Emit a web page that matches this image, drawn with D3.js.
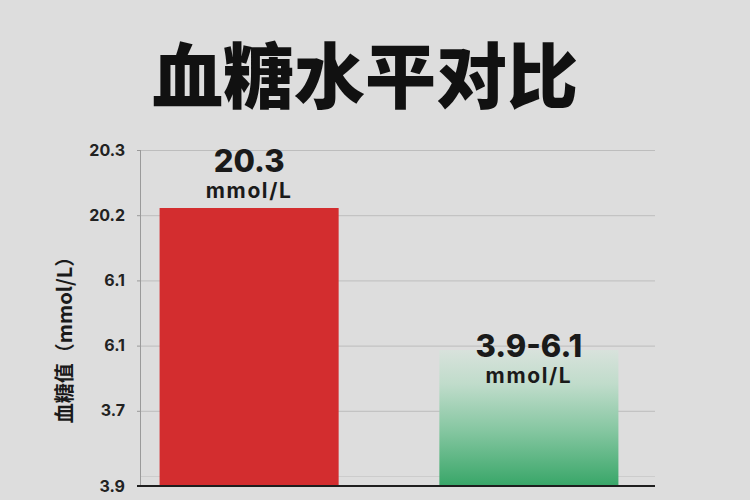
<!DOCTYPE html>
<html>
<head>
<meta charset="utf-8">
<script src="https://cdn.jsdelivr.net/npm/d3@7"></script>
<style>
  body { margin: 0; background: #dddddd; }
  svg { display: block; }
</style>
</head>
<body>
<div id="chart"></div>
<script>
// data
var categories = ["高血糖", "正常范围"];
var values = [20.3, 6.1];
var valueLabels = ["20.3", "3.9-6.1"];
var unitLabel = "mmol/L";
var tickLabels = ["3.9", "3.7", "6.1", "6.1", "20.2", "20.3"];
var titleText = "血糖水平对比";
var yTitle = "血糖值（mmol/L）";

var width = 750,
    height = 500;

var svg = d3.select("#chart").append("svg")
    .attr("width", width)
    .attr("height", height);

svg.append("rect")
    .attr("width", width)
    .attr("height", height)
    .attr("fill", "#dddddd");

var axisX = 140,
    baseY = 486,
    gridRight = 655;

// the value axis of the picture is not linear, so the scale is piecewise
var y = d3.scaleLinear()
    .domain([0, 6.1, 20.3])
    .range([baseY, 350, 208]);

var x = d3.scaleBand()
    .domain(categories)
    .range([axisX, 638])
    .paddingInner(0.36)
    .paddingOuter(0.07);

// tick label rows are evenly spaced
var tickY = d3.scalePoint()
    .domain(d3.range(tickLabels.length))
    .range([476, 150]);

var defs = svg.append("defs");
var grad = defs.append("linearGradient")
    .attr("id", "greenGrad")
    .attr("x1", 0).attr("y1", 0)
    .attr("x2", 0).attr("y2", 1);
grad.append("stop").attr("offset", "0%").attr("stop-color", "#d8e2dc");
grad.append("stop").attr("offset", "25%").attr("stop-color", "#c0dccb");
grad.append("stop").attr("offset", "60%").attr("stop-color", "#84c6a0");
grad.append("stop").attr("offset", "100%").attr("stop-color", "#38a668");

// gridlines
svg.append("g")
    .selectAll("line")
    .data(d3.range(tickLabels.length))
    .enter().append("line")
    .attr("x1", axisX)
    .attr("x2", gridRight)
    .attr("y1", function(d) { return tickY(d) + 0.5; })
    .attr("y2", function(d) { return tickY(d) + 0.5; })
    .attr("stroke", function(d) { return d === 0 ? "#cccccc" : "#bdbdbd"; })
    .attr("stroke-width", 1);

// small tick marks
svg.append("g")
    .selectAll("line")
    .data(d3.range(1, tickLabels.length))
    .enter().append("line")
    .attr("x1", axisX - 3)
    .attr("x2", axisX)
    .attr("y1", function(d) { return tickY(d) + 0.5; })
    .attr("y2", function(d) { return tickY(d) + 0.5; })
    .attr("stroke", "#999");

// vertical axis line
svg.append("line")
    .attr("x1", axisX + 0.5)
    .attr("x2", axisX + 0.5)
    .attr("y1", tickY(tickLabels.length - 1))
    .attr("y2", baseY)
    .attr("stroke", "#9a9a9a")
    .attr("stroke-width", 1);

// bars
svg.append("g")
    .selectAll("rect")
    .data(values)
    .enter().append("rect")
    .attr("x", function(d, i) { return x(categories[i]); })
    .attr("y", function(d) { return y(d); })
    .attr("width", x.bandwidth())
    .attr("height", function(d) { return baseY - y(d); })
    .attr("fill", function(d, i) { return i === 0 ? "#d32d2f" : "url(#greenGrad)"; });

// baseline
svg.append("line")
    .attr("x1", axisX - 3)
    .attr("x2", gridRight)
    .attr("y1", baseY)
    .attr("y2", baseY)
    .attr("stroke", "#1e1e1e")
    .attr("stroke-width", 2);

// tick labels
svg.append("g")
    .selectAll("text")
    .data(tickLabels)
    .enter().append("text")
    .attr("x", 125)
    .attr("y", function(d, i) { return i === 0 ? baseY : tickY(i); })
    .attr("dy", "0.35em")
    .attr("text-anchor", "end")
    .attr("font-family", "Inter, 'Liberation Sans', sans-serif")
    .attr("font-weight", 700)
    .attr("font-size", 16)
    .attr("fill", "#222")
    .text(function(d) { return d; });

// value labels: the red one sits above its bar, the green one overlaps the faded top
var labelOffset = [-36, 7];
var labels = svg.append("g")
    .selectAll("g")
    .data(values)
    .enter().append("g")
    .attr("transform", function(d, i) {
        return "translate(" + (x(categories[i]) + x.bandwidth() / 2) + "," + (y(d) + labelOffset[i]) + ")";
    });

labels.append("text")
    .attr("text-anchor", "middle")
    .attr("font-family", "Inter, 'Liberation Sans', sans-serif")
    .attr("font-weight", 800)
    .attr("font-size", 31)
    .attr("fill", "#1a1a1a")
    .text(function(d, i) { return valueLabels[i]; });

labels.append("text")
    .attr("y", 26)
    .attr("text-anchor", "middle")
    .attr("font-family", "Inter, 'Liberation Sans', sans-serif")
    .attr("font-weight", 700)
    .attr("font-size", 21)
    .attr("letter-spacing", 1.6)
    .attr("fill", "#1a1a1a")
    .text(unitLabel);

// y axis title
svg.append("text")
    .attr("transform", "translate(72,335) rotate(-90)")
    .attr("text-anchor", "middle")
    .attr("font-family", "'Noto Sans CJK SC', sans-serif")
    .attr("font-weight", 700)
    .attr("font-size", 20)
    .attr("fill", "#1a1a1a")
    .text(yTitle);

// title
svg.append("text")
    .attr("x", 365)
    .attr("y", 102)
    .attr("text-anchor", "middle")
    .attr("font-family", "'Noto Sans CJK SC', sans-serif")
    .attr("font-weight", 900)
    .attr("font-size", 71)
    .attr("fill", "#111")
    .text(titleText);
</script>
</body>
</html>
